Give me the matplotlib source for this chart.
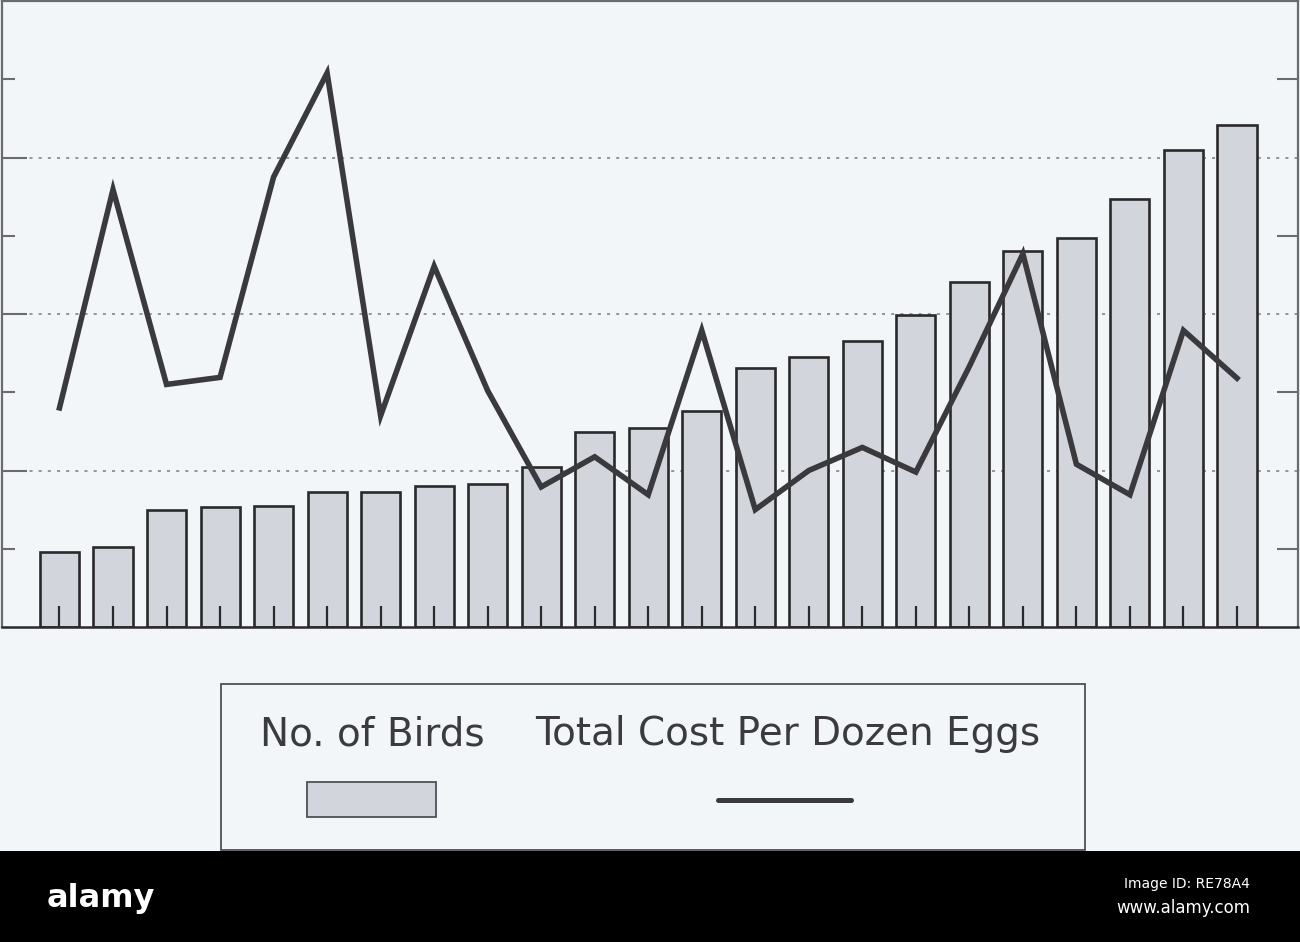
import matplotlib
matplotlib.use("Agg")
import matplotlib.pyplot as plt
from matplotlib.patches import Rectangle
from matplotlib.lines import Line2D
import numpy as np

# Data (in grid units; gridlines every 2 units)
periods = list(range(1, 24))
birds = [0.96, 1.02, 1.50, 1.53, 1.545, 1.72, 1.72, 1.805, 1.83, 2.045, 2.49, 2.545,
         2.76, 3.305, 3.45, 3.655, 3.99, 4.41, 4.81, 4.97, 5.47, 6.09, 6.41]
cost = [2.80, 5.59, 3.10, 3.19, 5.75, 7.08, 2.70, 4.61, 3.02, 1.79, 2.175, 1.69,
        3.79, 1.50, 2.00, 2.295, 1.98, 3.33, 4.77, 2.08, 1.69, 3.79, 3.18]
grid_values = [2, 4, 6]
minor_values = [1, 3, 5, 7]
legend_labels = ["No. of Birds", "Total Cost Per Dozen Eggs"]

BG = "#f3f6f8"
BAR = "#d2d6dc"
EDGE = "#2a2a2c"
LINE = "#3a3a3e"
TXT = "#3a3a40"

W, H = 1300, 942
fig = plt.figure(figsize=(W / 100, H / 100), dpi=100, facecolor=BG)

def fx(px):
    return px / W

def fy(py):
    return 1 - py / H

ax = fig.add_axes([fx(2), fy(627), fx(1298) - fx(2), fy(1) - fy(627)])
ax.set_facecolor(BG)
x = np.arange(len(periods))
for g in grid_values:
    ax.axhline(g, linestyle=(0, (2, 4)), color="#7a7a80", linewidth=1.1, zorder=1)
ax.bar(x, birds, width=0.73, color=BAR, edgecolor=EDGE, linewidth=1.9, zorder=2)
ax.set_xlim(-1.074, 23.14)
ax.set_ylim(0, 8)
ax.set_yticks(grid_values)
ax.set_yticks(minor_values, minor=True)
ax.set_axisbelow(False)
ax.tick_params(axis="y", which="major", direction="in", length=18, width=1.5, color="#6a6a70",
               labelleft=False, left=True, right=False)
ax.tick_params(axis="y", which="minor", direction="in", length=9, width=1.5, color="#6a6a70",
               labelleft=False, left=True, right=False)
ax.set_xticks(x)
ax.tick_params(axis="x", direction="in", length=15, width=1.6, color=EDGE, labelbottom=False)
for s in ["left", "top", "right"]:
    ax.spines[s].set_color("#6a6a70")
    ax.spines[s].set_linewidth(1.6)
ax.spines["bottom"].set_color(EDGE)
ax.spines["bottom"].set_linewidth(1.8)

ax2 = ax.twinx()
ax2.set_ylim(0, 8)
ax2.plot(x, cost, color=LINE, linewidth=4.0, solid_joinstyle="miter", zorder=3)
ax2.set_yticks(minor_values)
ax2.tick_params(axis="y", direction="in", length=15, width=1.5, color="#6a6a70", labelright=False)
for s in ax2.spines.values():
    s.set_visible(False)

# Legend box
fig.patches.append(Rectangle((fx(221), fy(850)), fx(1085) - fx(221), fy(684) - fy(850),
                             transform=fig.transFigure, facecolor=BG, edgecolor="#505055",
                             linewidth=1.3))
fig.text(fx(372), fy(745), legend_labels[0], ha="center", va="baseline",
         fontsize=28, family="DejaVu Sans", color=TXT)
fig.text(fx(788), fy(745), legend_labels[1], ha="center", va="baseline",
         fontsize=28, family="DejaVu Sans", color=TXT)
fig.patches.append(Rectangle((fx(307), fy(817)), fx(436) - fx(307), fy(782) - fy(817),
                             transform=fig.transFigure, facecolor=BAR, edgecolor="#505055",
                             linewidth=1.3))
fig.lines.append(Line2D([fx(718), fx(851)], [fy(800), fy(800)], transform=fig.transFigure,
                        color=LINE, linewidth=3.6, solid_capstyle="round"))

# Bottom black band
fig.patches.append(Rectangle((0, 0), 1, fy(851), transform=fig.transFigure,
                             facecolor="black", edgecolor="none"))
fig.text(fx(101), fy(898), "alamy", ha="center", va="center", color="white",
         fontsize=23, family="DejaVu Sans", weight="bold")
fig.text(fx(1250), fy(884), "Image ID: RE78A4", ha="right", va="center", color="white",
         fontsize=10, family="DejaVu Sans")
fig.text(fx(1250), fy(908), "www.alamy.com", ha="right", va="center", color="white",
         fontsize=12, family="DejaVu Sans")

fig.savefig("out.png", dpi=100, facecolor=BG)
